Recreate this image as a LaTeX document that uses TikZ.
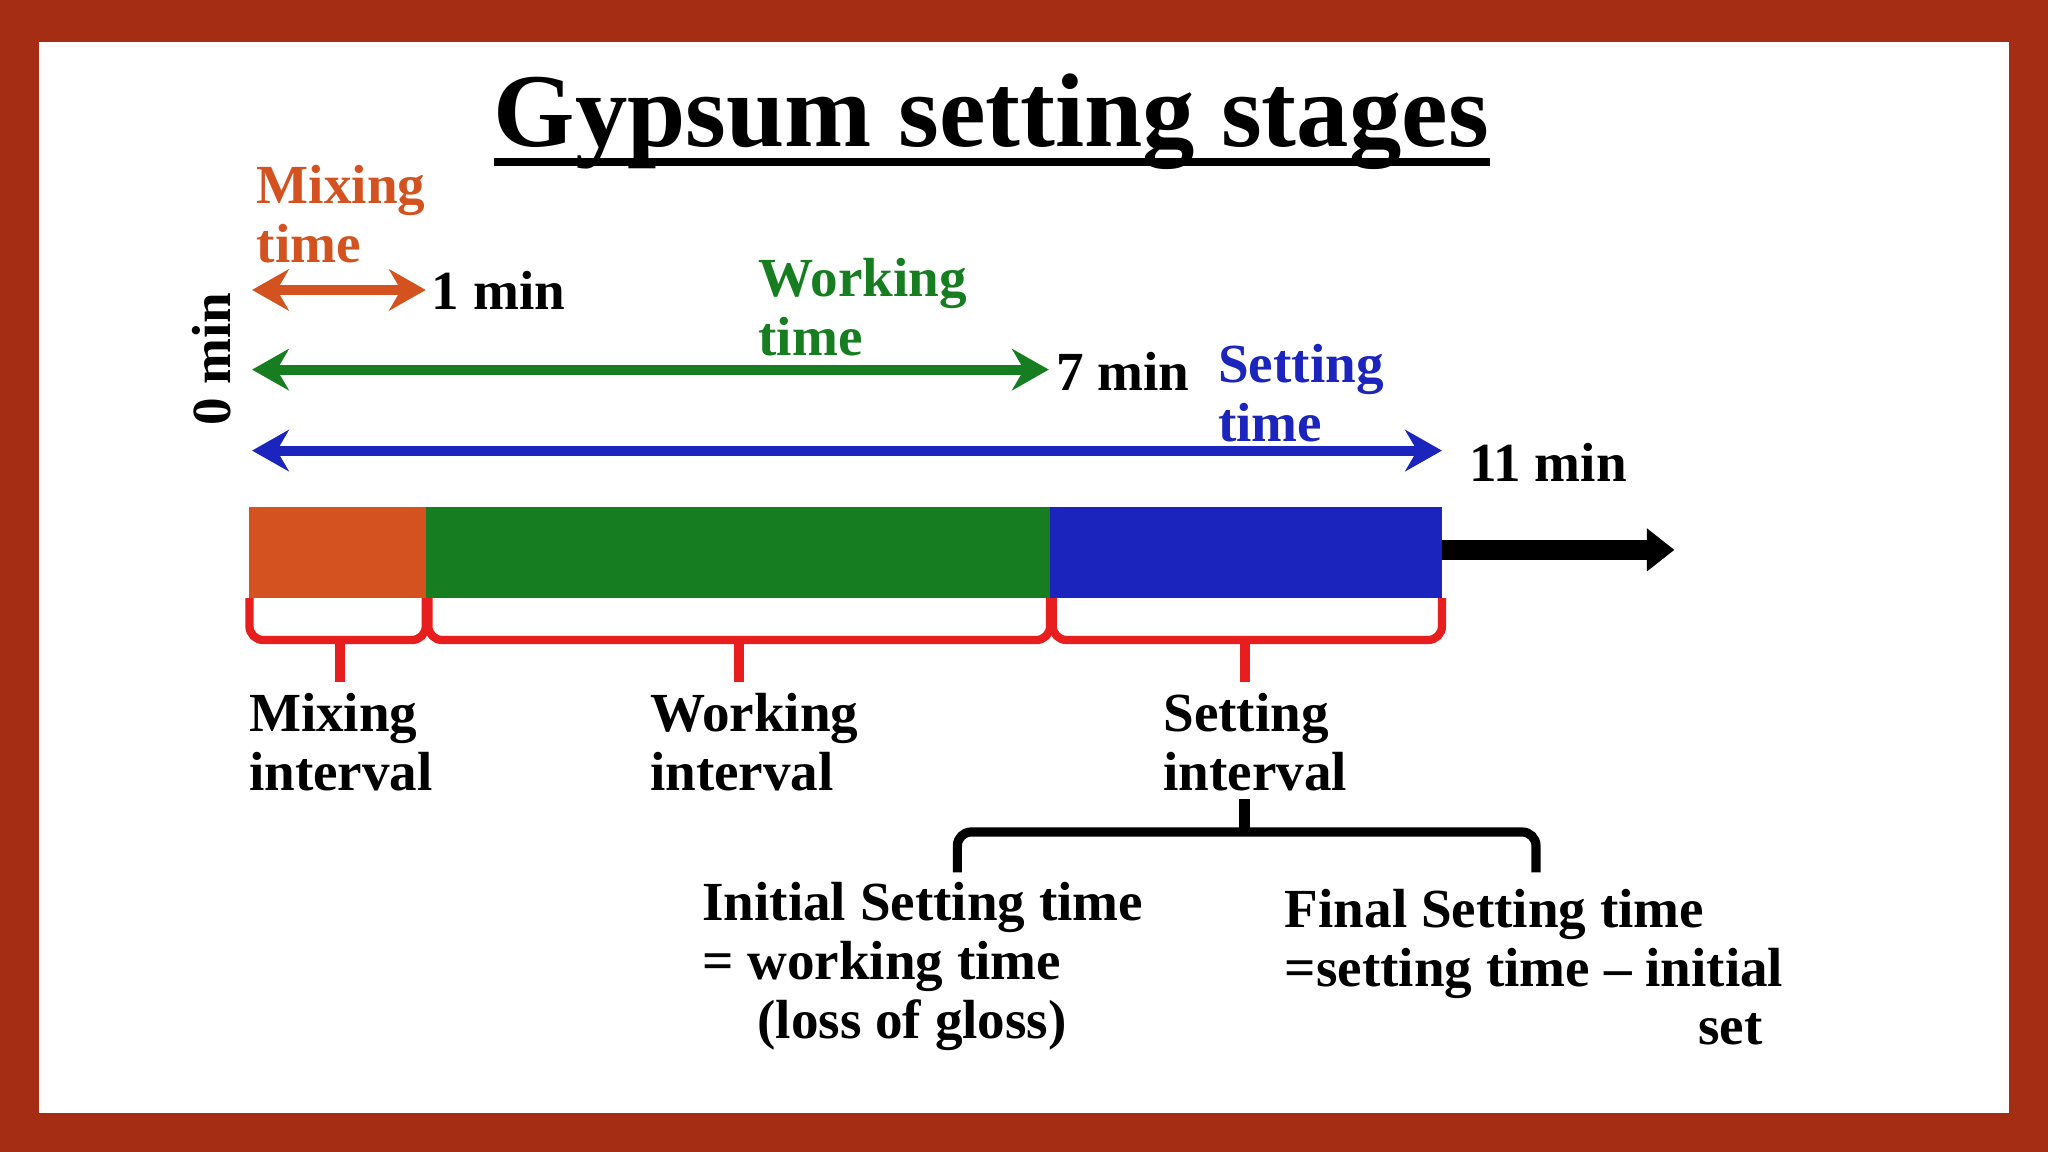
\documentclass[tikz,border=0pt]{standalone}
\usepackage{fontspec}
\setmainfont{Liberation Serif}
\usetikzlibrary{arrows.meta}
\definecolor{frame}{RGB}{165,45,20}
\definecolor{cOr}{RGB}{212,82,32}
\definecolor{cGr}{RGB}{22,125,32}
\definecolor{cBl}{RGB}{28,36,190}
\definecolor{cRd}{RGB}{232,30,30}
\tikzset{
 lbl/.style={font=\bfseries\fontsize{12}{12.8}\selectfont, inner sep=0pt, align=left},
 dbl/.style={line width=2.2pt, {Stealth[length=8pt,width=9pt]}-{Stealth[length=8pt,width=9pt]}},
 brc/.style={cRd, line width=1.8pt, rounded corners=3pt},
}
\begin{document}
\begin{tikzpicture}[x=0.01cm,y=-0.01cm]
\fill[frame] (0,0) rectangle (1568,882);
\fill[white] (30,32) rectangle (1538,852);
\useasboundingbox (0,0) rectangle (1568,882);
% title
\node[font=\bfseries\fontsize{22.8}{26}\selectfont, inner sep=0pt, anchor=base] (title) at (759,112) {Gypsum setting stages};
\draw[line width=1.6pt] (378,124) -- (1141,124);
% bar
\fill[cOr] (191,388) rectangle (326,458);
\fill[cGr] (326,388) rectangle (804,458);
\fill[cBl] (804,388) rectangle (1104,458);
\coordinate (barE) at (1104,421);
\coordinate (barT) at (1282,421);
\draw[line width=4.5pt, -{Triangle[length=6pt,width=9pt]}] (barE) -- (barT);
% arrows
\coordinate (a0) at (193,222); \coordinate (a1) at (326,222);
\coordinate (b0) at (193,283); \coordinate (b1) at (803,283);
\coordinate (c0) at (193,345); \coordinate (c1) at (1104,345);
\draw[dbl, cOr] (a0) -- (a1);
\draw[dbl, cGr] (b0) -- (b1);
\draw[dbl, cBl] (c0) -- (c1);
\node[lbl, anchor=west] (m1) at (330,222) {1 min};
\node[lbl, anchor=west] (m7) at (808,284) {7 min};
\node[lbl, anchor=west] (m11) at (1124,354) {11 min};
\node[lbl, rotate=90] (m0) at (162,275) {0 min};
\node[lbl, anchor=north west, text=cOr] (mt) at (196,126) {Mixing\\time};
\node[lbl, anchor=north west, text=cGr] (wt) at (580,197) {Working\\time};
\node[lbl, anchor=north west, text=cBl] (st) at (932,263) {Setting\\time};
% red braces
\foreach \l/\r/\m in {191/326/260, 328/804/566, 806/1104/953}{
 \draw[brc] (\l,458) -- (\l,490) -- (\r,490) -- (\r,458);
 \draw[cRd, line width=2.2pt] (\m,490) -- (\m,522);
}
\node[lbl, anchor=north west] (mi) at (190,530) {Mixing\\interval};
\node[lbl, anchor=north west] (wi) at (497,530) {Working\\interval};
\node[lbl, anchor=north west] (si) at (890,530) {Setting\\interval};
% black brace
\draw[line width=2pt, rounded corners=3pt] (733,668) -- (733,637) -- (1176,637) -- (1176,668);
\draw[line width=2.4pt] (953,637) -- (953,612);
\node[lbl, anchor=north west] (ini) at (537,675) {Initial Setting time\\= working time\\\hspace*{12pt}(loss of gloss)};
\node[lbl, anchor=north west] (fin) at (983,680) {Final Setting time\\=setting time -- initial\\\hspace*{90pt}set};
\end{tikzpicture}
\end{document}
